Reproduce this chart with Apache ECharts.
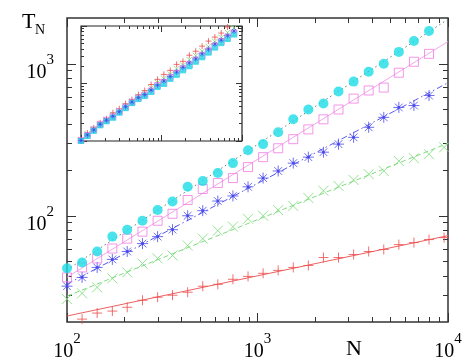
<!DOCTYPE html>
<html><head><meta charset="utf-8">
<script src="https://cdn.jsdelivr.net/npm/echarts@6/dist/echarts.min.js"></script>
<style>html,body{margin:0;padding:0;background:#fff}#c{width:474px;height:363px}</style>
</head><body><div id="c"></div>
<script>
// ---------- data ----------
const N = [100, 120, 144, 173, 207, 249, 299, 358, 430, 516, 619, 743, 892, 1070, 1284, 1541, 1849, 2219, 2662, 3195, 3834, 4601, 5521, 6625, 7950, 9540];

// main panel (T_N), index = position in N
const cyanMain    = [45.1, 49.3, 58.2, 72.9, 81.0, 92.7, 109, 124, 155, 169, 191, 222, 270, 296, 354, 431, 500, 548, 656, 763, 887, 1000, 1197, 1413, 1644];
const magentaMain = [39.3, 45.7, 52.4, 60.9, 70.7, 78.6, 92.7, 103, 127, 150, 164, 177, 209, 243, 278, 319, 370, 431, 500, 590, 667, 697, 873, 1031, 1162];
const blueMain    = [34.4, 39.3, 45.7, 51.6, 58.2, 65.6, 72.9, 81.0, 100, 108, 125, 135, 155, 177, 197, 222, 243, 262, 296, 328, 382, 444, 516, 531, 618];
const greenMain   = [28.3, 30.9, 33.8, 38.7, 42.4, 48.5, 52.4, 54.8, 63.7, 70.7, 79.8, 84.8, 95.5, 100, 109, 116, 131, 146, 157, 172, 188, 197, 229, 239, 254, 282];
const redMain     = [null, 20.9, 22.9, 23.6, 25.0, 27.8, 29.1, 30.0, 31.4, 34.4, 35.4, 38.2, 39.9, 41.8, 43.7, 45.7, 47.1, 53.1, 53.1, 55.6, 58.2, 60.0, 64.6, 66.6, 69.7, 71.8];

// power-law fit lines (values at N = 100 and N = 10000)
const fitN       = [100, 10000];
const cyanFit    = [44.1, 1963];
const magentaFit = [39.4, 1399];
const blueFit    = [35.5, 750];
const greenFit   = [29.6, 300];
const redFit     = [21.9, 74.0];

// inset (rescaled values)
const cyanInset    = [1.00, 1.22, 1.50, 1.87, 2.20, 2.53, 3.10, 3.72, 4.55, 5.35, 6.04, 7.10, 8.68, 9.80, 12.0, 14.1, 16.9, 19.9, 23.8, 28.6, 34.3, 42.0, 50.3, 59.2, 71.0];
const redInset     = [null, 1.38, 1.69, 2.07, 2.43, 3.10, 3.64, 4.46, 5.24, 6.41, 7.54, 9.61, 11.8, 14.4, 16.9, 21.5, 24.3, 31.0, 36.4, 44.6, 54.6, 64.1, 75.4, 96.0];
const greenInset   = [1.04, 1.33, 1.62, 1.99, 2.34, 2.86, 3.43, 4.11, 4.93, 5.92, 6.81, 8.34, 10.4, 12.2, 14.4, 18.0, 20.7, 25.8, 30.4, 36.4, 43.7, 53.5, 62.8, 76.9, 92.2];
const blueInset    = [1.02, 1.27, 1.56, 1.95, 2.29, 2.69, 3.23, 3.95, 4.74, 5.68, 6.41, 7.69, 9.41, 11.1, 13.3, 15.9, 19.1, 22.9, 26.9, 32.9, 39.5, 48.3, 56.8, 68.1, 81.7];
const magentaInset = [1.02, 1.25, 1.56, 1.95, 2.29, 2.64, 3.23, 3.87, 4.74, 5.57, 6.28, 7.39, 9.22, 10.4, 12.7, 15.0, 18.0, 21.1, 25.3, 30.4, 36.4, 44.6, 53.5, 62.8, 75.4];

// axes
const xRange = [100, 10000];
const yRange = [20, 2000];
const xMajor = [100, 1000, 10000];
const yMajor = [100, 1000];
const insetYRange = [1, 100];
const insetYMajor = [1, 10, 100];

// ---------- chart ----------
const L = Math.log10;
const FONT = 'Liberation Serif';
const TICK = '#333';

function pairs(vals) {
  const out = [];
  vals.forEach((v, i) => { if (v !== null && v !== undefined) out.push([N[i], v]); });
  return out;
}
function minorTicks(lo, hi) {
  const out = [];
  const a = Math.floor(L(lo)), b = Math.ceil(L(hi));
  for (let d = a; d < b; d++) for (let m = 2; m <= 9; m++) {
    const v = L(m) + d;
    if (v > L(lo) + 1e-6 && v < L(hi) - 1e-6) out.push(v);
  }
  return out;
}
const rich = {
  b: {fontFamily: FONT, fontSize: 20, lineHeight: 30, verticalAlign: 'bottom', color: '#000'},
  s: {fontFamily: FONT, fontSize: 15, lineHeight: 15, verticalAlign: 'top', color: '#000'}
};
function fmt(v) { return '{b|10}{s|' + Math.round(v) + '}'; }

function deco(dim, grid, pos, range, vals, len, label) {
  const a = {
    type: 'value', gridIndex: grid, position: pos,
    min: L(range[0]), max: L(range[1]),
    axisLine: {show: false, onZero: false},
    splitLine: {show: false},
    axisTick: {show: true, inside: true, length: len, customValues: vals, lineStyle: {color: TICK, width: 1}},
    axisLabel: {show: false}
  };
  if (label) {
    a.axisLabel = Object.assign({show: true, customValues: vals, formatter: fmt, rich: rich}, label);
  }
  return a;
}

const mainXMaj = xMajor.map(L), mainYMaj = yMajor.map(L);
const mainXMin = minorTicks(xRange[0], xRange[1]);
const mainYMin = minorTicks(yRange[0], yRange[1]);
const inYMaj = insetYMajor.map(L);
const inYMin = minorTicks(insetYRange[0], insetYRange[1]);

const xAxes = [
  {type: 'log', logBase: 10, gridIndex: 0, min: xRange[0], max: xRange[1], show: false},
  deco('x', 0, 'bottom', xRange, mainXMaj, 9, {margin: 10}),
  deco('x', 0, 'bottom', xRange, mainXMin, 5),
  deco('x', 0, 'top', xRange, mainXMaj, 9),
  deco('x', 0, 'top', xRange, mainXMin, 5),
  {type: 'log', logBase: 10, gridIndex: 1, min: xRange[0], max: xRange[1], show: false},
  deco('x', 1, 'bottom', xRange, mainXMaj, 6),
  deco('x', 1, 'bottom', xRange, mainXMin, 3),
  deco('x', 1, 'top', xRange, mainXMaj, 6),
  deco('x', 1, 'top', xRange, mainXMin, 3)
];
const yAxes = [
  {type: 'log', logBase: 10, gridIndex: 0, min: yRange[0], max: yRange[1], show: false},
  deco('y', 0, 'left', yRange, mainYMaj, 9, {margin: 13, padding: [8, 0, 0, 0]}),
  deco('y', 0, 'left', yRange, mainYMin, 5),
  deco('y', 0, 'right', yRange, mainYMaj, 9),
  deco('y', 0, 'right', yRange, mainYMin, 5),
  {type: 'log', logBase: 10, gridIndex: 1, min: insetYRange[0], max: insetYRange[1], show: false},
  deco('y', 1, 'left', insetYRange, inYMaj, 6),
  deco('y', 1, 'left', insetYRange, inYMin, 3),
  deco('y', 1, 'right', insetYRange, inYMaj, 6),
  deco('y', 1, 'right', insetYRange, inYMin, 3)
];

const SYM = {
  plus: 'path://M5,0L5,10M0,5L10,5',
  cross: 'path://M0,0L10,10M10,0L0,10',
  star: 'path://M5,0L5,10M0,5L10,5M1.5,1.5L8.5,8.5M8.5,1.5L1.5,8.5M4.2,4.2L5.8,4.2L5.8,5.8L4.2,5.8Z',
  square: 'path://M0,0L10,0L10,10L0,10Z'
};
const C = {cyan: '#1cdde6', magenta: '#f07ae4', blue: '#4a4aee', green: '#78dc78', red: '#ee4c4c'};

function fitLine(vals, color, type) {
  return {type: 'line', xAxisIndex: 0, yAxisIndex: 0, data: fitN.map((n, i) => [n, vals[i]]),
    symbol: 'none', silent: true, z: 1,
    lineStyle: {color: color, width: 1, type: type}};
}
function scat(ax, vals, symbol, size, style, z) {
  return {type: 'scatter', xAxisIndex: ax, yAxisIndex: ax, data: pairs(vals), symbol: symbol,
    symbolSize: size, itemStyle: style, clip: false, z: z || 3, silent: true};
}
const open = c => ({color: 'rgba(0,0,0,0)', borderColor: c, borderWidth: 1});

const option = {
  animation: false,
  backgroundColor: '#fff',
  grid: [
    {left: 67, top: 18, width: 381, height: 304, show: true, borderColor: '#333', borderWidth: 1.5, backgroundColor: 'rgba(0,0,0,0)', outerBoundsMode: 'none', containLabel: false},
    {left: 81, top: 26, width: 161, height: 115, show: true, borderColor: '#222', borderWidth: 1.2, backgroundColor: '#fff', outerBoundsMode: 'none', containLabel: false}
  ],
  xAxis: xAxes,
  yAxis: yAxes,
  graphic: [
    {type: 'text', left: 22, top: 11, style: {text: 'T', font: '22px "Liberation Serif"', fill: '#000'}},
    {type: 'text', left: 35, top: 23, style: {text: 'N', font: '14px "Liberation Serif"', fill: '#000'}},
    {type: 'text', left: 346, top: 338, style: {text: 'N', font: '22px "Liberation Serif"', fill: '#000'}}
  ],
  series: [
    fitLine(redFit, '#ee6060', 'solid'),
    fitLine(greenFit, '#80dc80', [5, 3]),
    fitLine(blueFit, '#5858ee', [6, 3, 1.5, 3]),
    fitLine(magentaFit, '#f5a6ec', 'solid'),
    fitLine(cyanFit, '#5f7f80', [1.5, 3]),
    scat(0, redMain, SYM.plus, 10, open(C.red)),
    scat(0, greenMain, SYM.cross, 10, open(C.green)),
    scat(0, blueMain, SYM.star, 11, {color: '#1a1a8c', borderColor: C.blue, borderWidth: 1}),
    scat(0, magentaMain, SYM.square, 9, open(C.magenta)),
    scat(0, cyanMain, 'circle', 10, {color: C.cyan}),
    scat(5, redInset, SYM.plus, 6, open(C.red), 5),
    scat(5, greenInset, SYM.cross, 6, open(C.green), 5),
    scat(5, magentaInset, SYM.square, 6, open(C.magenta), 5),
    scat(5, cyanInset, 'rect', 6, {color: C.cyan}, 5),
    scat(5, blueInset, SYM.star, 6, {color: '#1a1a8c', borderColor: C.blue, borderWidth: 0.8}, 5)
  ]
};
const chart = echarts.init(document.getElementById('c'), null, {renderer: 'canvas'});
chart.setOption(option);
</script>
</body></html>
